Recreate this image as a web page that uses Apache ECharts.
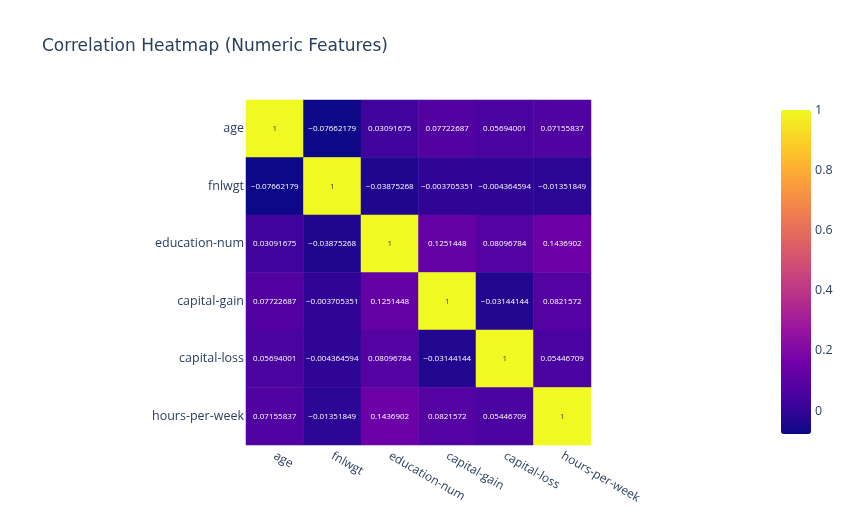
<!DOCTYPE html>
<html>
<head>
<meta charset="utf-8">
<script src="https://cdn.jsdelivr.net/npm/echarts@6/dist/echarts.min.js"></script>
<style>
  html, body { margin: 0; padding: 0; background: #fff; }
  #chart { width: 852px; height: 524px; }
</style>
</head>
<body>
<div id="chart"></div>
<script>
const features = ['age', 'fnlwgt', 'education-num', 'capital-gain', 'capital-loss', 'hours-per-week']

const corrAge = [1, -0.07662179, 0.03091675, 0.07722687, 0.05694001, 0.07155837]
const corrFnlwgt = [-0.07662179, 1, -0.03875268, -0.003705351, -0.004364594, -0.01351849]
const corrEducation = [0.03091675, -0.03875268, 1, 0.1251448, 0.08096784, 0.1436902]
const corrGain = [0.07722687, -0.003705351, 0.1251448, 1, -0.03144144, 0.0821572]
const corrLoss = [0.05694001, -0.004364594, 0.08096784, -0.03144144, 1, 0.05446709]
const corrHours = [0.07155837, -0.01351849, 0.1436902, 0.0821572, 0.05446709, 1]

const colorTicks = [0, 0.2, 0.4, 0.6, 0.8, 1]
const plasma = ['#0d0887', '#46039f', '#7201a8', '#9c179e', '#bd3786',
  '#d8576b', '#ed7953', '#fb9f3a', '#fdca26', '#f0f921']

const matrix = [corrAge, corrFnlwgt, corrEducation, corrGain, corrLoss, corrHours]
const vMin = -0.07662179
const vMax = 1

// build heatmap cells [x, y, value]
const cells = []
matrix.forEach((row, yi) => {
  row.forEach((v, xi) => {
    cells.push({
      value: [xi, yi, v],
      label: { color: v > 0.5 ? '#444' : '#fff' }
    })
  })
})

const fontFam = '"Open Sans", verdana, arial, sans-serif'
const wideFont = '"DejaVu Sans", verdana, sans-serif'
const chart = echarts.init(document.getElementById('chart'))

chart.setOption({
  backgroundColor: '#fff',
  animation: false,
  textStyle: { fontFamily: fontFam },
  title: {
    text: 'Correlation Heatmap (Numeric Features)',
    left: 37,
    top: 33,
    textStyle: { color: '#2a3f5f', fontSize: 17, fontWeight: 'normal', fontFamily: wideFont }
  },
  grid: [
    { left: 246, top: 100, width: 345, height: 345, containLabel: false },
    { left: 781, top: 110, width: 30, height: 324, containLabel: false }
  ],
  xAxis: [
    {
      type: 'category',
      gridIndex: 0,
      data: features,
      axisLine: { show: false },
      axisTick: { show: false },
      splitLine: { show: false },
      axisLabel: { color: '#2a3f5f', fontSize: 12, rotate: -30, margin: 10, fontFamily: fontFam }
    },
    { type: 'value', gridIndex: 1, show: false, min: 0, max: 1 }
  ],
  yAxis: [
    {
      type: 'category',
      gridIndex: 0,
      data: features,
      inverse: true,
      axisLine: { show: false },
      axisTick: { show: false },
      splitLine: { show: false },
      axisLabel: { color: '#2a3f5f', fontSize: 12.5, margin: 2, fontFamily: fontFam }
    },
    {
      type: 'value',
      gridIndex: 1,
      position: 'right',
      min: vMin,
      max: vMax,
      axisLine: { show: false },
      axisTick: { show: false },
      splitLine: { show: false },
      axisLabel: {
        color: '#2a3f5f',
        fontSize: 12.5,
        margin: 4,
        fontFamily: fontFam,
        customValues: colorTicks,
        formatter: v => String(Math.round(v * 10) / 10)
      }
    }
  ],
  visualMap: {
    type: 'continuous',
    min: vMin,
    max: vMax,
    calculable: false,
    left: 781,
    top: 110,
    padding: 0,
    itemWidth: 30,
    itemHeight: 324,
    text: ['', ''],
    showLabel: false,
    seriesIndex: 0,
    inRange: { color: plasma }
  },
  series: [
    {
      type: 'heatmap',
      xAxisIndex: 0,
      yAxisIndex: 0,
      data: cells,
      itemStyle: { borderWidth: 0 },
      label: {
        show: true,
        fontSize: 8,
        fontWeight: 500,
        fontFamily: fontFam,
        formatter: p => String(p.value[2]).replace('-', '\u2212')
      }
    }
  ]
})
</script>
</body>
</html>
